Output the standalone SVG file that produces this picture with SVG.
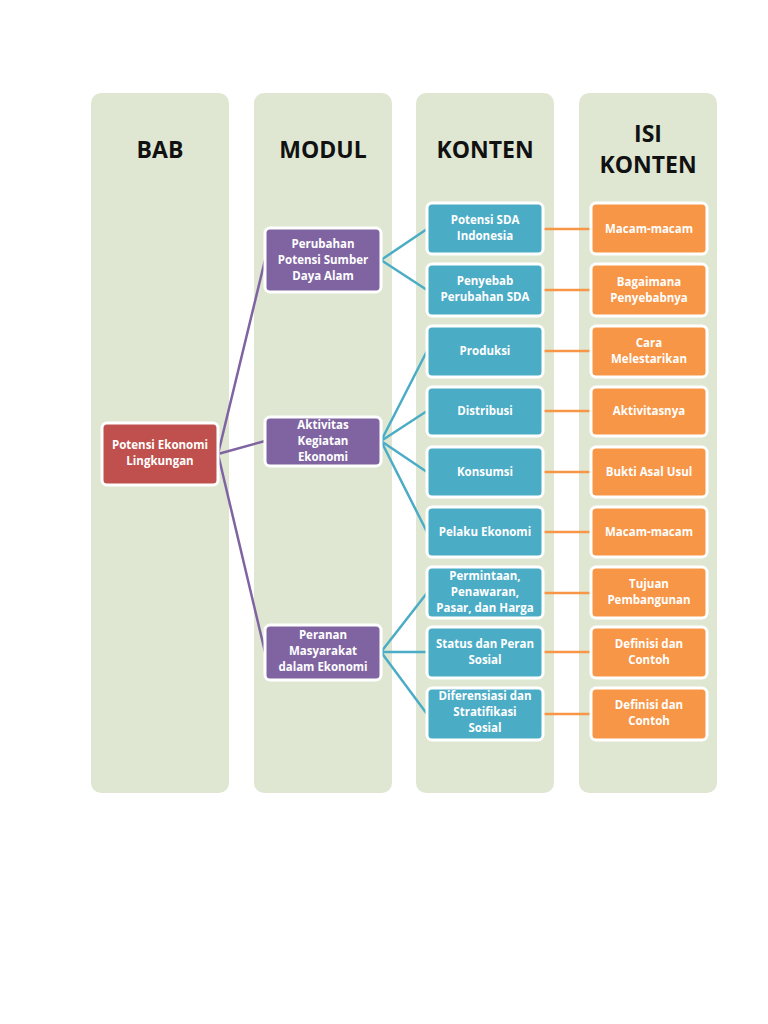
<svg xmlns="http://www.w3.org/2000/svg" width="768" height="1024" viewBox="0 0 768 1024">
<style>
.col{fill:#dfe7d3}
.h{font-family:"Open Sans","Liberation Sans",sans-serif;font-weight:bold;font-size:23px;fill:#111;text-anchor:middle}
.n{stroke:#fff;stroke-width:3}
.t{font-family:"Open Sans","Liberation Sans",sans-serif;font-weight:bold;font-size:11.5px;fill:#fff;text-anchor:middle}
.r{fill:#c0504d}.p{fill:#8064a2}.b{fill:#4bacc6}.o{fill:#f79646}
</style>
<rect width="768" height="1024" fill="#fff"/>
<g id="columns">
<rect class="col" x="91" y="93" width="138" height="700" rx="10"/>
<rect class="col" x="254" y="93" width="138" height="700" rx="10"/>
<rect class="col" x="416" y="93" width="138" height="700" rx="10"/>
<rect class="col" x="579" y="93" width="138" height="700" rx="10"/>
<text class="h" x="160" y="158">BAB</text>
<text class="h" x="323" y="158">MODUL</text>
<text class="h" x="485" y="158">KONTEN</text>
<text class="h" x="648" y="142">ISI</text>
<text class="h" x="648" y="173">KONTEN</text>
</g>
<g id="connectors" fill="none" stroke-width="2.5">
<g stroke="#8064a2">
<path d="M218 454L265 260M218 454L265 441M218 454L265 652"/>
</g>
<g stroke="#4bacc6">
<path d="M381 260L427 229M381 260L427 290M381 441L427 351M381 441L427 411M381 441L427 472M381 441L427 532M381 652L427 593M381 652L427 652M381 652L427 714"/>
</g>
<g stroke="#f79646">
<path d="M543 229H591M543 290H591M543 351H591M543 411H591M543 472H591M543 532H591M543 593H591M543 652H591M543 714H591"/>
</g>
</g>
<g id="bab"><rect class="n r" x="102" y="423" width="116" height="62" rx="5"/><text class="t" x="160" y="449">Potensi Ekonomi</text><text class="t" x="160" y="465">Lingkungan</text></g>
<g id="modul1"><rect class="n p" x="265" y="228" width="116" height="64" rx="5"/><text class="t" x="323" y="248">Perubahan</text><text class="t" x="323" y="264">Potensi Sumber</text><text class="t" x="323" y="280">Daya Alam</text></g>
<g id="modul2"><rect class="n p" x="265" y="417" width="116" height="49" rx="5"/><text class="t" x="323" y="429">Aktivitas</text><text class="t" x="323" y="445">Kegiatan</text><text class="t" x="323" y="461">Ekonomi</text></g>
<g id="modul3"><rect class="n p" x="265" y="625" width="116" height="55" rx="5"/><text class="t" x="323" y="639">Peranan</text><text class="t" x="323" y="655">Masyarakat</text><text class="t" x="323" y="671">dalam Ekonomi</text></g>
<g id="k1"><rect class="n b" x="427" y="203" width="116" height="51" rx="5"/><text class="t" x="485" y="224">Potensi SDA</text><text class="t" x="485" y="240">Indonesia</text></g>
<g id="k2"><rect class="n b" x="427" y="264" width="116" height="52" rx="5"/><text class="t" x="485" y="285">Penyebab</text><text class="t" x="485" y="301">Perubahan SDA</text></g>
<g id="k3"><rect class="n b" x="427" y="326" width="116" height="51" rx="5"/><text class="t" x="485" y="355">Produksi</text></g>
<g id="k4"><rect class="n b" x="427" y="387" width="116" height="49" rx="5"/><text class="t" x="485" y="415">Distribusi</text></g>
<g id="k5"><rect class="n b" x="427" y="447" width="116" height="50" rx="5"/><text class="t" x="485" y="476">Konsumsi</text></g>
<g id="k6"><rect class="n b" x="427" y="507" width="116" height="50" rx="5"/><text class="t" x="485" y="536">Pelaku Ekonomi</text></g>
<g id="k7"><rect class="n b" x="427" y="567" width="116" height="51" rx="5"/><text class="t" x="485" y="580">Permintaan,</text><text class="t" x="485" y="596">Penawaran,</text><text class="t" x="485" y="612">Pasar, dan Harga</text></g>
<g id="k8"><rect class="n b" x="427" y="627" width="116" height="51" rx="5"/><text class="t" x="485" y="648">Status dan Peran</text><text class="t" x="485" y="664">Sosial</text></g>
<g id="k9"><rect class="n b" x="427" y="688" width="116" height="52" rx="5"/><text class="t" x="485" y="700">Diferensiasi dan</text><text class="t" x="485" y="716">Stratifikasi</text><text class="t" x="485" y="732">Sosial</text></g>
<g id="i1"><rect class="n o" x="591" y="203" width="116" height="51" rx="5"/><text class="t" x="649" y="233">Macam-macam</text></g>
<g id="i2"><rect class="n o" x="591" y="264" width="116" height="52" rx="5"/><text class="t" x="649" y="286">Bagaimana</text><text class="t" x="649" y="302">Penyebabnya</text></g>
<g id="i3"><rect class="n o" x="591" y="326" width="116" height="51" rx="5"/><text class="t" x="649" y="347">Cara</text><text class="t" x="649" y="363">Melestarikan</text></g>
<g id="i4"><rect class="n o" x="591" y="387" width="116" height="49" rx="5"/><text class="t" x="649" y="415">Aktivitasnya</text></g>
<g id="i5"><rect class="n o" x="591" y="447" width="116" height="50" rx="5"/><text class="t" x="649" y="476">Bukti Asal Usul</text></g>
<g id="i6"><rect class="n o" x="591" y="507" width="116" height="50" rx="5"/><text class="t" x="649" y="536">Macam-macam</text></g>
<g id="i7"><rect class="n o" x="591" y="567" width="116" height="51" rx="5"/><text class="t" x="649" y="588">Tujuan</text><text class="t" x="649" y="604">Pembangunan</text></g>
<g id="i8"><rect class="n o" x="591" y="627" width="116" height="51" rx="5"/><text class="t" x="649" y="648">Definisi dan</text><text class="t" x="649" y="664">Contoh</text></g>
<g id="i9"><rect class="n o" x="591" y="688" width="116" height="52" rx="5"/><text class="t" x="649" y="709">Definisi dan</text><text class="t" x="649" y="725">Contoh</text></g>
</svg>
